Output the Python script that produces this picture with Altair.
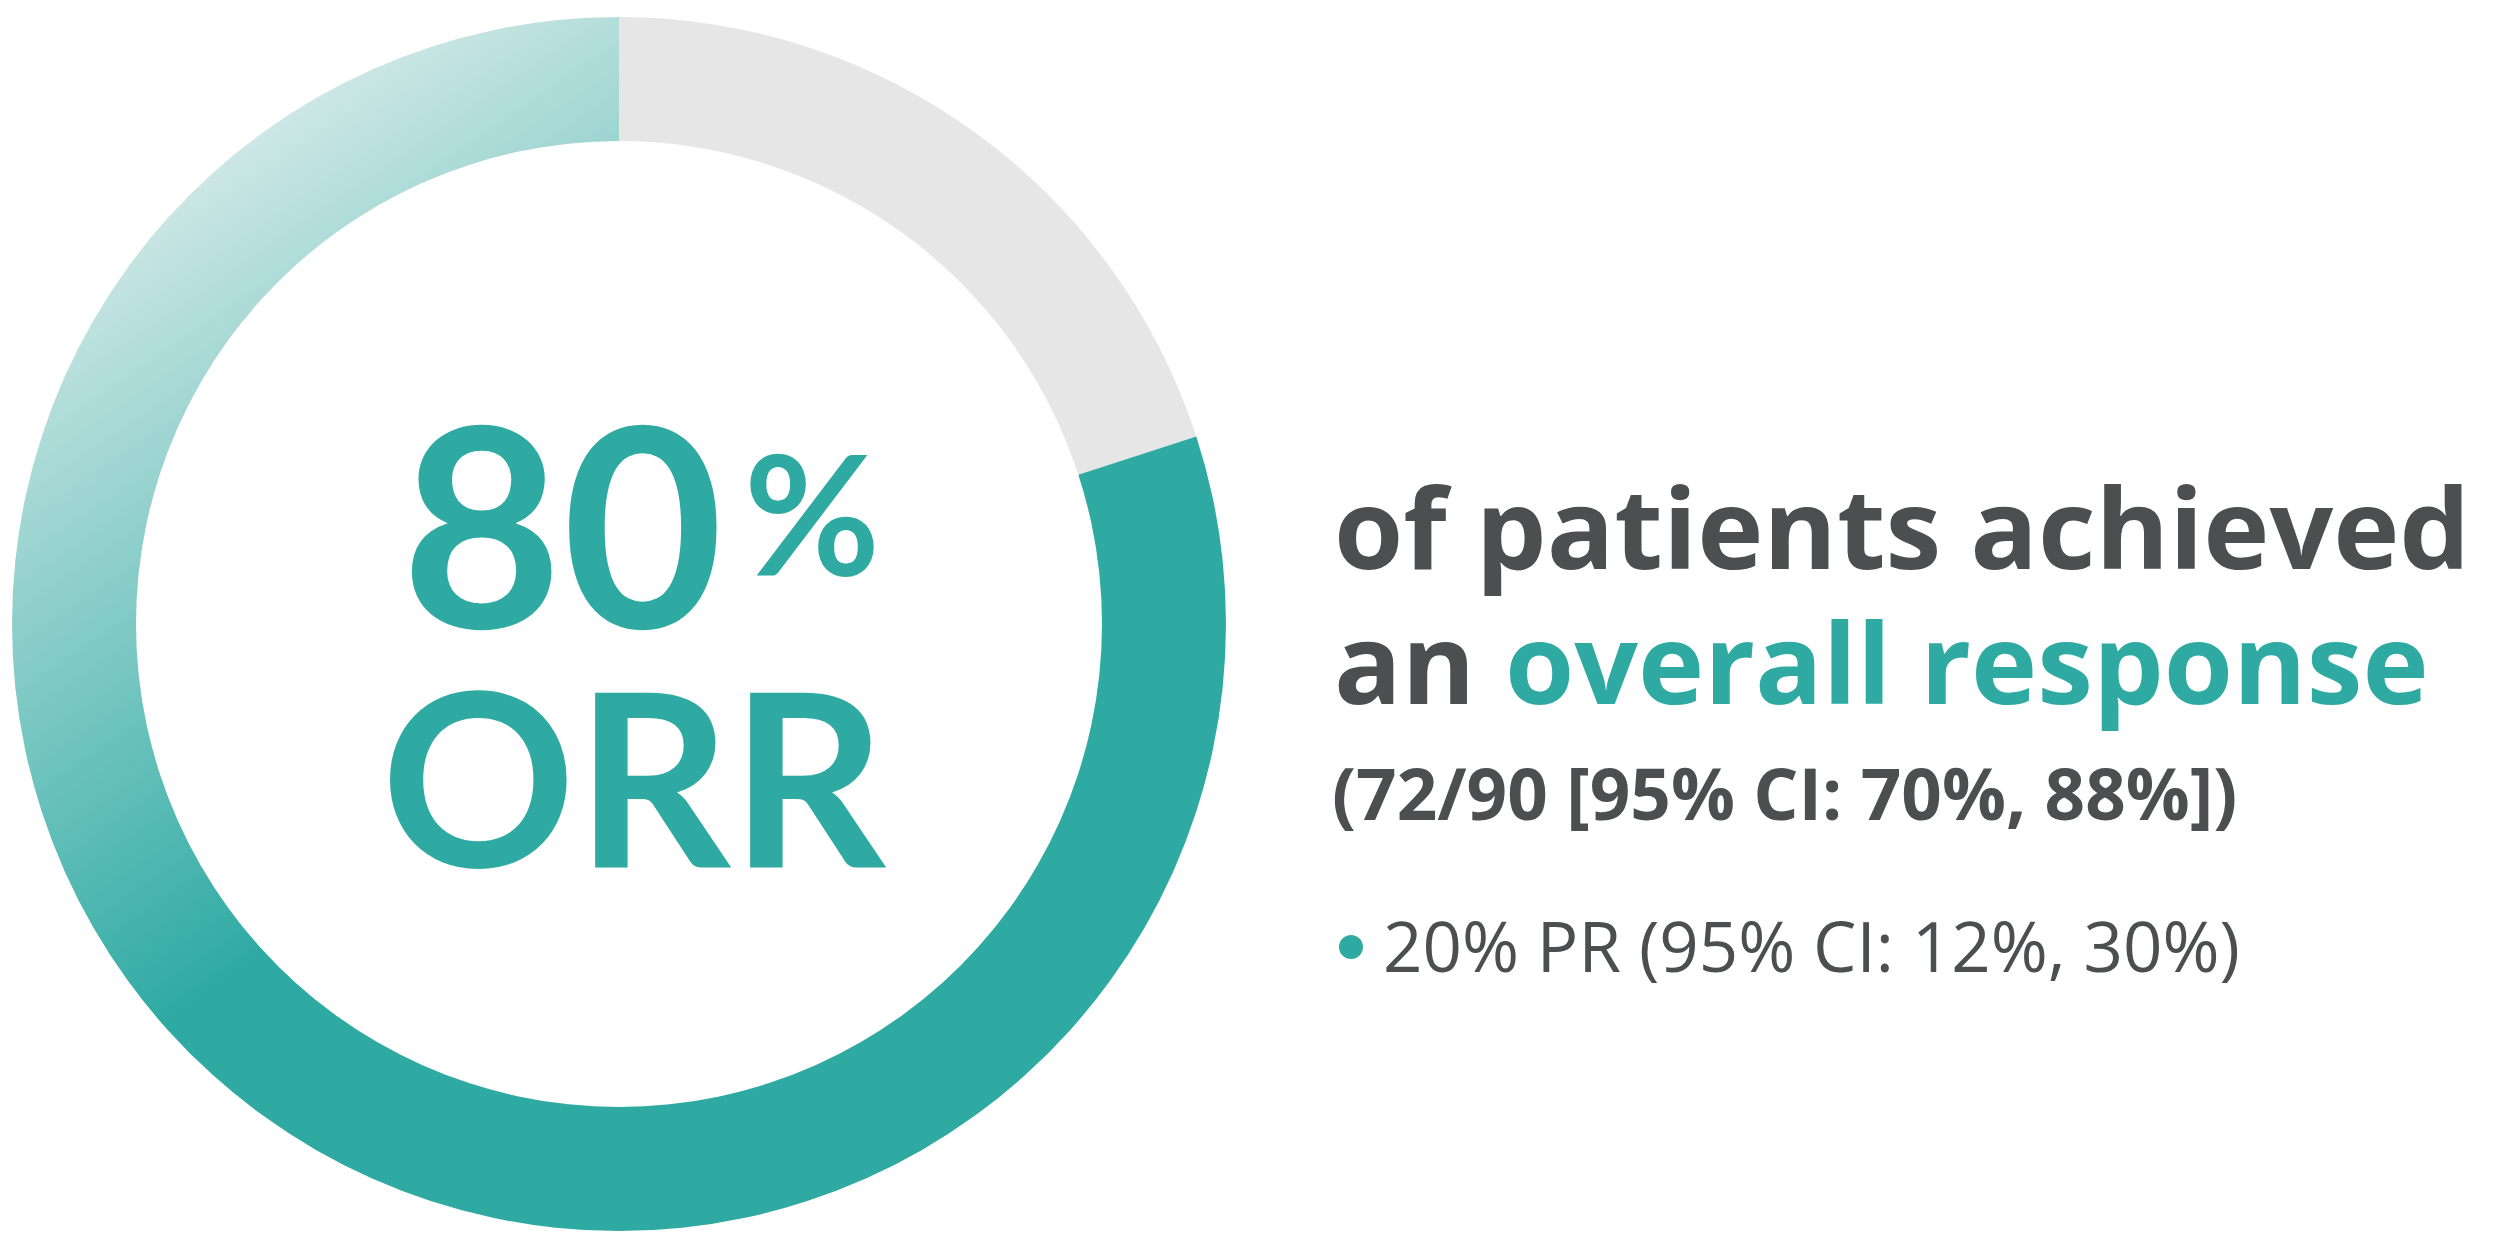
import altair as alt
import pandas as pd

# ---- data ----
segments = ["No response", "Overall response"]
shares = [20, 80]

big_number = ["80"]
big_percent = ["%"]
big_label = ["ORR"]
headline_1 = ["of patients achieved"]
headline_2a = ["an"]
headline_2b = ["overall response"]
detail_line = ["(72/90 [95% CI: 70%, 88%])"]
bullet_line = ["20% PR (95% CI: 12%, 30%)"]

TEAL = "#2EAAA3"
DARK = "#4D4E50"
GREY = "#E6E6E6"

seg_df = pd.DataFrame({"segment": segments, "share": shares, "order": list(range(len(segments)))})

CX, CY = 611, 616  # donut centre in chart coordinates
R_OUT, R_IN = 607, 483

base = alt.Chart(seg_df).transform_stack(
    stack="share", as_=["start", "end"], groupby=[], sort=[alt.SortField("order")]
)
theta_scale = alt.Scale(domain=[0, 100])

grey_arc = base.transform_filter(alt.datum.segment == "No response").mark_arc(
    innerRadius=R_IN, outerRadius=R_OUT, fill=GREY
).encode(
    theta=alt.Theta("start:Q", scale=theta_scale),
    theta2="end:Q",
    x=alt.value(CX),
    y=alt.value(CY),
)

gradient = {
    "gradient": "linear",
    "x1": 0.09, "y1": 0.12,
    "x2": 0.43, "y2": 0.62,
    "stops": [
        {"offset": 0, "color": "#D9ECEA"},
        {"offset": 1, "color": TEAL},
    ],
}

teal_arc = base.transform_filter(alt.datum.segment == "Overall response").mark_arc(
    innerRadius=R_IN, outerRadius=R_OUT, fill=gradient
).encode(
    theta=alt.Theta("start:Q", scale=theta_scale),
    theta2="end:Q",
    x=alt.value(CX),
    y=alt.value(CY),
)


def text_layer(values, x, y, size, color, font, weight, align="left"):
    return alt.Chart(pd.DataFrame({"t": values})).mark_text(
        font=font, fontSize=size, fontWeight=weight, color=color,
        align=align, baseline="alphabetic",
    ).encode(text="t:N", x=alt.value(x), y=alt.value(y))


layers = [
    grey_arc,
    teal_arc,
    text_layer(big_number, 393, 620, 278, TEAL, "Lato", 700),
    text_layer(big_percent, 736, 568, 166, TEAL, "Lato", 700),
    text_layer(big_label, 373, 859, 241, TEAL, "Lato", 700),
    text_layer(headline_1, 1326, 561, 112, DARK, "Open Sans", 700),
    text_layer(headline_2a, 1326, 696, 112, DARK, "Open Sans", 700),
    text_layer(headline_2b, 1497, 696, 112, TEAL, "Open Sans", 700),
    text_layer(detail_line, 1324, 812, 71, DARK, "Open Sans", 700),
    text_layer(bullet_line, 1375, 964, 69, DARK, "Open Sans", 400),
    alt.Chart(pd.DataFrame({"b": ["•"]})).mark_circle(size=576, color=TEAL, opacity=1).encode(
        x=alt.value(1343), y=alt.value(939)
    ),
]

chart = alt.layer(*layers).properties(
    width=2480, height=1228, padding=0, autosize=alt.AutoSizeParams(type="none"),
    background="white",
).configure_view(stroke=None)

chart.save("out.html", embed_options={"renderer": "svg", "actions": False})
